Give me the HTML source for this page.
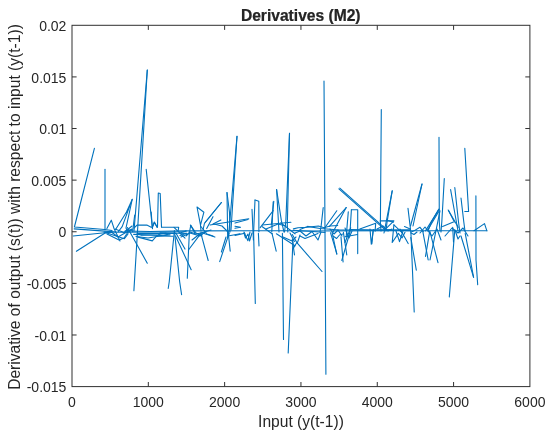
<!DOCTYPE html>
<html><head><meta charset="utf-8"><style>
html,body{margin:0;padding:0;background:#fff;}
svg{display:block;filter:blur(0.3px);}
text{font-family:"Liberation Sans",Arial,sans-serif;fill:#262626;}
</style></head><body>
<svg width="550" height="440" viewBox="0 0 550 440">
<rect x="0" y="0" width="550" height="440" fill="#fff"/>
<g fill="none" stroke="#0072BD" stroke-width="1.1" stroke-linejoin="round" stroke-linecap="round">
<polyline points="94.4,148.4 74.4,227.0 104.7,229.5 112.0,230.5"/>
<polyline points="74.2,228.9 104.7,231.1 116.0,232.0"/>
<polyline points="105.0,169.4 105.0,229.7"/>
<polyline points="73.2,236.0 104.7,232.7 112.0,232.5"/>
<polyline points="76.4,251.3 104.7,233.3 112.0,231.0"/>
<polyline points="106.9,228.4 111.3,220.2 114.0,228.4 120.0,240.9"/>
<polyline points="104.7,232.2 124.4,238.7 128.0,234.0"/>
<polyline points="115.6,229.5 126.5,212.0 132.2,199.4 122.2,226.6 118.0,232.0"/>
<polyline points="132.2,199.4 126.0,228.0 128.0,233.0"/>
<polyline points="127.4,227.6 147.3,263.2"/>
<polyline points="134.7,215.1 132.6,231.8"/>
<polyline points="147.3,70.0 133.9,290.6"/>
<polyline points="147.3,70.0 134.0,231.0"/>
<polyline points="146.2,169.4 152.5,228.7"/>
<polyline points="152.0,227.2 154.3,222.0 157.1,227.2"/>
<polyline points="157.5,227.0 158.3,193.0 160.2,193.5 161.5,227.0"/>
<polyline points="161.6,227.2 178.7,227.2 178.1,231.1"/>
<polyline points="174.4,230.8 169.2,282.0 168.2,288.5"/>
<polyline points="174.4,230.8 179.7,282.0 181.6,294.7"/>
<polyline points="175.5,236.0 191.2,269.7"/>
<polyline points="134.0,228.0 137.0,225.1 146.8,225.1 151.2,227.3"/>
<polyline points="151.2,212.0 152.3,227.8 154.5,222.4 157.2,227.3"/>
<polyline points="104.0,232.0 125.0,232.3 186.0,231.8"/>
<polyline points="126.0,231.0 150.0,231.5 186.0,230.8"/>
<polyline points="133.7,234.4 161.0,235.5 170.0,234.0"/>
<polyline points="138.1,237.1 152.3,240.9 157.0,235.5"/>
<polyline points="176.3,233.8 185.0,249.1"/>
<polyline points="174.0,227.3 185.0,238.2"/>
<polyline points="186.0,230.9 300.0,230.7"/>
<polyline points="197.0,207.0 203.9,212.2 200.5,225.2 197.0,207.0"/>
<polyline points="200.5,225.2 201.0,231.0"/>
<polyline points="221.5,202.5 204.4,223.5 203.0,230.0"/>
<polyline points="213.0,216.7 206.7,228.6"/>
<polyline points="220.9,220.1 213.0,224.1"/>
<polyline points="189.7,231.0 190.8,225.2 194.8,233.2"/>
<polyline points="180.0,235.5 186.8,233.2"/>
<polyline points="237.0,136.3 228.7,235.0"/>
<polyline points="237.0,136.3 231.0,230.0"/>
<polyline points="227.0,192.5 227.7,237.7"/>
<polyline points="227.0,192.5 229.5,212.5 230.0,232.0"/>
<polyline points="255.0,200.0 258.8,201.3 258.9,231.8"/>
<polyline points="255.0,200.0 253.6,232.3 255.3,303.4"/>
<polyline points="252.0,209.3 253.4,240.0"/>
<polyline points="221.3,202.5 205.0,222.5"/>
<polyline points="210.0,225.0 248.8,218.8"/>
<polyline points="248.0,219.5 235.0,223.0"/>
<polyline points="273.2,201.8 271.8,231.8"/>
<polyline points="273.2,210.7 260.2,227.7"/>
<polyline points="276.6,189.5 281.4,220.9 284.0,232.0"/>
<polyline points="276.6,189.5 279.0,232.0"/>
<polyline points="289.5,133.4 285.8,222.0 284.5,232.0"/>
<polyline points="289.5,133.4 287.3,225.0 287.8,232.0"/>
<polyline points="273.8,201.3 271.3,225.0"/>
<polyline points="262.3,225.0 290.9,222.3"/>
<polyline points="189.4,231.3 187.3,278.3"/>
<polyline points="200.9,233.4 208.2,260.5"/>
<polyline points="200.9,233.4 188.4,250.0"/>
<polyline points="229.1,233.4 219.7,261.6"/>
<polyline points="228.1,231.3 230.2,251.1"/>
<polyline points="244.0,232.0 247.9,240.7 250.0,232.0"/>
<polyline points="258.4,233.4 259.0,245.9"/>
<polyline points="272.0,233.4 276.2,251.1"/>
<polyline points="282.4,233.4 283.5,339.5"/>
<polyline points="292.9,241.7 288.2,353.0"/>
<polyline points="294.4,241.4 290.0,233.0"/>
<polyline points="297.3,243.2 322.0,271.5"/>
<polyline points="300.0,235.0 297.3,243.2"/>
<polyline points="324.0,81.0 325.0,232.0 325.9,374.2"/>
<polyline points="300.0,231.0 410.0,230.6"/>
<polyline points="300.0,229.5 307.5,226.4 320.1,228.5 340.0,230.0 410.0,229.8"/>
<polyline points="338.9,188.8 384.9,229.6"/>
<polyline points="381.3,109.5 380.4,222.3 381.0,231.0"/>
<polyline points="392.2,190.9 387.0,222.3 386.0,231.0"/>
<polyline points="392.2,190.9 384.0,233.0"/>
<polyline points="346.2,207.6 329.5,226.4"/>
<polyline points="346.2,207.6 333.0,232.0"/>
<polyline points="336.8,210.8 324.3,228.5"/>
<polyline points="323.2,207.6 321.1,226.4 320.0,232.0"/>
<polyline points="348.3,211.8 346.2,236.9"/>
<polyline points="351.4,209.7 357.7,209.7 357.7,253.6"/>
<polyline points="351.4,209.7 350.0,232.0 341.8,260.5"/>
<polyline points="370.0,229.0 371.3,244.2 373.5,229.5"/>
<polyline points="387.0,220.2 393.3,222.3"/>
<polyline points="393.9,224.9 392.2,242.5 398.4,233.4 402.0,238.0 405.0,232.3"/>
<polyline points="393.9,224.9 401.8,232.3"/>
<polyline points="330.5,232.7 336.8,253.6"/>
<polyline points="341.0,236.9 343.1,262.0"/>
<polyline points="336.8,254.3 332.0,232.0"/>
<polyline points="371.9,243.8 373.0,231.0"/>
<polyline points="396.0,231.0 399.5,241.7 403.0,231.0"/>
<polyline points="405.0,230.7 486.9,230.8"/>
<polyline points="474.0,230.8 484.5,223.6 486.9,230.8"/>
<polyline points="439.0,137.3 439.3,222.0 440.0,231.0"/>
<polyline points="444.3,178.5 441.8,222.0 441.0,232.0"/>
<polyline points="464.8,148.4 468.6,211.5 464.8,211.5"/>
<polyline points="422.0,184.0 410.5,226.0"/>
<polyline points="422.0,184.0 413.0,226.0"/>
<polyline points="408.0,208.4 410.9,232.7 414.2,312.0"/>
<polyline points="450.6,189.6 456.4,222.0 458.0,231.0"/>
<polyline points="454.8,187.5 458.5,222.0 460.0,233.0"/>
<polyline points="461.0,198.0 463.8,222.0 465.0,231.0"/>
<polyline points="475.9,195.9 476.0,260.0 477.7,284.8"/>
<polyline points="448.5,210.5 454.4,222.0"/>
<polyline points="438.7,209.4 431.4,222.0 428.0,231.0"/>
<polyline points="400.0,229.1 408.2,243.6"/>
<polyline points="410.8,237.5 416.3,270.2"/>
<polyline points="422.7,230.9 428.2,260.0"/>
<polyline points="439.1,209.1 425.5,230.9"/>
<polyline points="440.0,210.9 430.0,260.0"/>
<polyline points="430.0,231.8 437.3,260.0 438.0,262.6"/>
<polyline points="448.2,210.0 458.2,227.3"/>
<polyline points="452.7,227.3 453.5,242.0"/>
<polyline points="449.3,297.0 454.7,231.3"/>
<polyline points="473.6,277.3 465.2,233.4"/>
<polyline points="429.7,231.3 425.5,256.4"/>
<polyline points="107.0,234.0 119.0,240.0 124.0,238.0 128.0,232.0 132.0,230.0"/>
<polyline points="110.0,231.0 118.0,237.0 125.0,233.0 132.0,229.0"/>
<polyline points="115.0,229.0 124.0,232.5 132.0,226.0"/>
<polyline points="125.0,231.0 132.0,229.5"/>
<polyline points="137.0,233.5 160.0,233.2 176.0,233.4"/>
<polyline points="141.0,235.3 158.0,234.8 166.0,233.0"/>
<polyline points="136.0,236.5 148.0,238.0 160.0,236.0 170.0,235.0"/>
<polyline points="160.0,232.8 186.0,233.5"/>
<polyline points="186.0,236.0 190.0,232.0 196.0,234.0 201.8,232.7 214.9,237.1"/>
<polyline points="181.0,237.0 190.0,233.0 200.0,236.0 205.0,232.0"/>
<polyline points="190.4,225.1 196.0,233.0 202.0,236.0"/>
<polyline points="200.5,226.0 207.0,234.0 213.0,236.0"/>
<polyline points="192.0,240.0 201.0,233.0 211.0,230.0"/>
<polyline points="228.0,236.0 240.0,233.8"/>
<polyline points="214.0,224.0 222.0,226.0 228.0,232.0"/>
<polyline points="226.0,237.0 221.4,252.0"/>
<polyline points="180.0,233.0 186.0,231.0"/>
<polyline points="235.0,226.2 240.5,227.3 235.0,228.3"/>
<polyline points="235.0,235.4 244.8,233.3"/>
<polyline points="244.0,233.0 245.5,238.0 248.0,234.0 249.5,241.0 252.0,233.0"/>
<polyline points="262.3,226.7 272.1,233.8"/>
<polyline points="280.8,222.9 295.0,233.8"/>
<polyline points="276.4,233.8 295.0,245.8"/>
<polyline points="283.0,237.0 292.0,241.0 296.0,237.0"/>
<polyline points="266.0,229.0 278.0,224.0 286.0,226.0"/>
<polyline points="293.4,228.9 298.0,227.7 307.0,227.2 318.4,226.0 324.1,227.7"/>
<polyline points="293.0,230.2 310.0,231.2 325.0,232.5"/>
<polyline points="292.3,234.5 296.8,242.5 293.4,248.2"/>
<polyline points="292.3,239.1 294.5,255.0"/>
<polyline points="300.0,236.0 305.0,238.5 318.0,233.5"/>
<polyline points="324.1,227.7 330.0,226.0 337.7,225.5"/>
<polyline points="333.0,236.0 336.6,238.5 339.5,235.0 343.0,234.0"/>
<polyline points="343.4,232.3 346.8,255.0"/>
<polyline points="339.8,188.2 385.4,228.6"/>
<polyline points="345.0,242.5 350.7,227.7"/>
<polyline points="345.0,236.8 357.5,234.5"/>
<polyline points="359.8,228.9 375.7,223.2 375.1,231.1"/>
<polyline points="380.2,220.9 393.9,220.9 387.0,227.7"/>
<polyline points="350.0,229.5 372.0,230.2 390.0,229.8"/>
<polyline points="411.0,232.0 413.6,231.1 419.9,227.2 423.3,231.7"/>
<polyline points="442.6,226.6 453.4,222.0"/>
<polyline points="404.5,226.6 410.2,228.9"/>
<polyline points="427.3,230.6 438.6,211.8"/>
<polyline points="411.0,233.0 414.0,234.5 417.0,232.0"/>
<polyline points="455.0,230.0 458.0,239.0 460.0,236.0"/>
<polyline points="295.0,233.0 300.0,231.0 306.0,236.0 312.0,231.5 318.0,240.0 321.0,232.0"/>
<polyline points="330.0,229.0 334.0,234.0 338.0,230.0 342.0,236.0"/>
<polyline points="345.0,228.0 349.0,238.0 352.0,231.0"/>
<polyline points="377.0,229.0 383.0,226.0 388.0,231.0 392.0,229.0"/>
<polyline points="420.0,233.0 425.0,227.0 432.0,236.0 437.0,229.0 441.0,240.0"/>
<polyline points="445.0,236.0 452.0,228.0 458.0,233.0 463.0,228.0 468.0,236.0"/>
<polyline points="157.0,236.0 173.0,236.3"/>
<polyline points="473.6,277.3 461.0,236.0"/>
</g>
<g stroke="#303030" stroke-width="1" fill="none">
<rect x="72.00" y="25.30" width="457.90" height="361.30"/>
<line x1="148.32" y1="386.60" x2="148.32" y2="382.00"/>
<line x1="148.32" y1="25.30" x2="148.32" y2="29.90"/>
<line x1="224.63" y1="386.60" x2="224.63" y2="382.00"/>
<line x1="224.63" y1="25.30" x2="224.63" y2="29.90"/>
<line x1="300.95" y1="386.60" x2="300.95" y2="382.00"/>
<line x1="300.95" y1="25.30" x2="300.95" y2="29.90"/>
<line x1="377.27" y1="386.60" x2="377.27" y2="382.00"/>
<line x1="377.27" y1="25.30" x2="377.27" y2="29.90"/>
<line x1="453.58" y1="386.60" x2="453.58" y2="382.00"/>
<line x1="453.58" y1="25.30" x2="453.58" y2="29.90"/>
<line x1="72.00" y1="334.99" x2="76.60" y2="334.99"/>
<line x1="529.90" y1="334.99" x2="525.30" y2="334.99"/>
<line x1="72.00" y1="283.37" x2="76.60" y2="283.37"/>
<line x1="529.90" y1="283.37" x2="525.30" y2="283.37"/>
<line x1="72.00" y1="231.76" x2="76.60" y2="231.76"/>
<line x1="529.90" y1="231.76" x2="525.30" y2="231.76"/>
<line x1="72.00" y1="180.14" x2="76.60" y2="180.14"/>
<line x1="529.90" y1="180.14" x2="525.30" y2="180.14"/>
<line x1="72.00" y1="128.53" x2="76.60" y2="128.53"/>
<line x1="529.90" y1="128.53" x2="525.30" y2="128.53"/>
<line x1="72.00" y1="76.91" x2="76.60" y2="76.91"/>
<line x1="529.90" y1="76.91" x2="525.30" y2="76.91"/>
</g>
<g font-size="14">
<text x="72.00" y="406.5" text-anchor="middle">0</text><text x="148.32" y="406.5" text-anchor="middle">1000</text><text x="224.63" y="406.5" text-anchor="middle">2000</text><text x="300.95" y="406.5" text-anchor="middle">3000</text><text x="377.27" y="406.5" text-anchor="middle">4000</text><text x="453.58" y="406.5" text-anchor="middle">5000</text><text x="529.90" y="406.5" text-anchor="middle">6000</text>
<text x="66.4" y="392.30" text-anchor="end">-0.015</text><text x="66.4" y="340.69" text-anchor="end">-0.01</text><text x="66.4" y="289.07" text-anchor="end">-0.005</text><text x="66.4" y="237.46" text-anchor="end">0</text><text x="66.4" y="185.84" text-anchor="end">0.005</text><text x="66.4" y="134.23" text-anchor="end">0.01</text><text x="66.4" y="82.61" text-anchor="end">0.015</text><text x="66.4" y="31.00" text-anchor="end">0.02</text>
</g>
<text x="300.75" y="21.4" text-anchor="middle" font-size="15.6" font-weight="bold" fill="#000" stroke="#000" stroke-width="0.2">Derivatives (M2)</text>
<text x="300.95" y="427.4" text-anchor="middle" font-size="15.6">Input (y(t-1))</text>
<text transform="translate(19.5,207) rotate(-90)" text-anchor="middle" font-size="15.6">Derivative of output (s(t)) with respect to input (y(t-1))</text>
</svg>
</body></html>
